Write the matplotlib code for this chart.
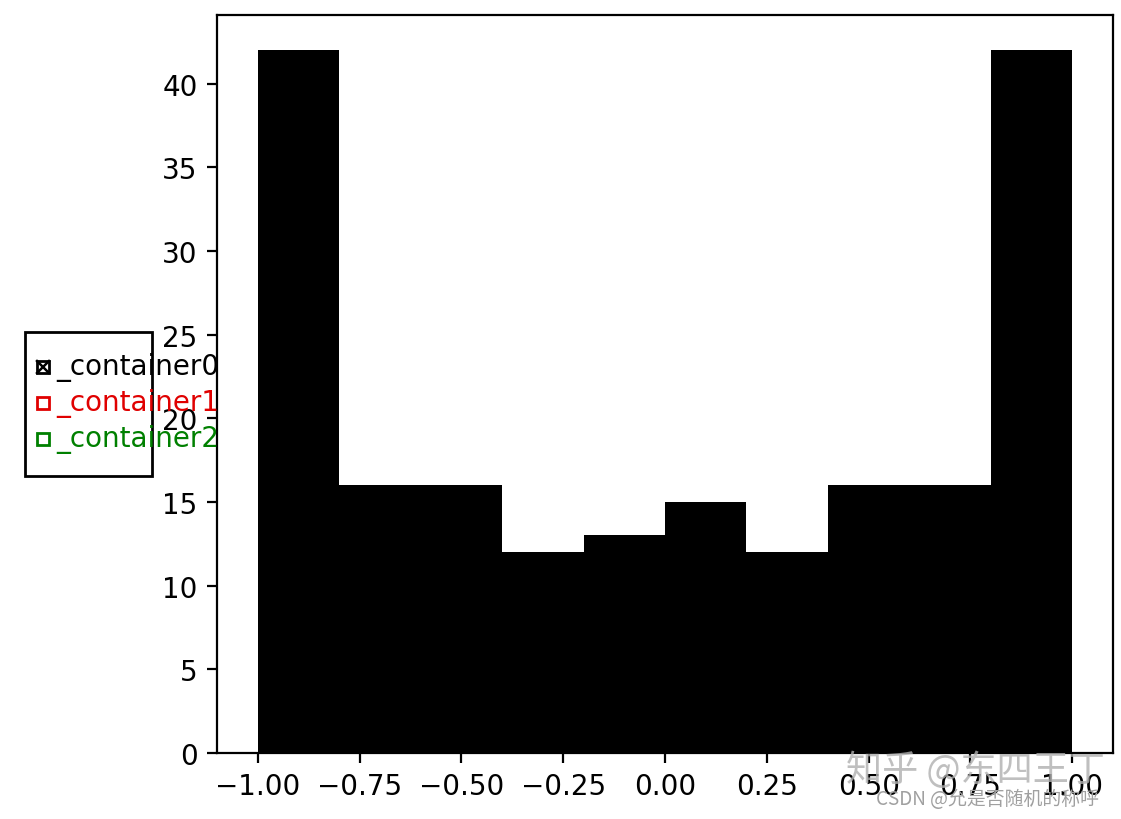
import numpy as np
import matplotlib.pyplot as plt
from matplotlib.patches import Rectangle
from matplotlib.lines import Line2D

# histogram bins and counts
bin_edges = [-1.0, -0.8, -0.6, -0.4, -0.2, 0.0, 0.2, 0.4, 0.6, 0.8, 1.0]
counts = [42, 16, 16, 12, 13, 15, 12, 16, 16, 42]

legend_labels = ["_container0", "_container1", "_container2"]
legend_colors = ["black", "#e00000", "green"]

W, H = 1121, 820
DPI = 200

plt.rcParams['font.family'] = ['DejaVu Sans', 'Noto Sans CJK SC']

fig = plt.figure(figsize=(W / DPI, H / DPI), dpi=DPI)
ax = fig.add_axes([217 / W, 1 - 754 / H, (1113 - 217) / W, (754 - 16) / H])
ax.hist(bin_edges[:-1], bins=bin_edges, weights=counts, color="black")

# legend drawn by hand (the original frame is too narrow for its labels)
def fx(px): return px / W
def fy(py): return 1 - py / H

fig.patches.append(Rectangle((fx(25), fy(477)), fx(152) - fx(25), fy(333) - fy(477),
                             transform=fig.transFigure, facecolor="white",
                             edgecolor="black", lw=1.0, zorder=-2))
ys = [368, 404, 440]
for i, (lab, col) in enumerate(zip(legend_labels, legend_colors)):
    x0, x1 = 37, 49
    y0, y1 = ys[i] - 6, ys[i] + 6
    sq = Rectangle((fx(x0), fy(y1)), fx(x1 - x0), fy(y0) - fy(y1),
                   transform=fig.transFigure, facecolor="none", edgecolor=col,
                   lw=1.0, zorder=-1)
    fig.patches.append(sq)
    if i == 0:  # crossed box for the first entry
        fig.add_artist(Line2D([fx(x0), fx(x1)], [fy(y0), fy(y1)], color=col, lw=0.9))
        fig.add_artist(Line2D([fx(x0), fx(x1)], [fy(y1), fy(y0)], color=col, lw=0.9))
    fig.text(fx(56), fy(ys[i]), lab, color=col, fontsize=10, va="center",
             ha="left")

# watermarks
fig.text(fx(975), fy(770), "知乎 @东四王丁", fontsize=13, color="#b0b0b0",
         alpha=0.8, ha="center", va="center", family=['Noto Sans CJK SC', 'DejaVu Sans'])
fig.text(fx(988), fy(800), "CSDN @允是否随机的称呼", fontsize=6.8, color="#a0a0a0",
         ha="center", va="center", family=['Noto Sans CJK SC', 'DejaVu Sans'])

fig.savefig("out.png", dpi=DPI)
